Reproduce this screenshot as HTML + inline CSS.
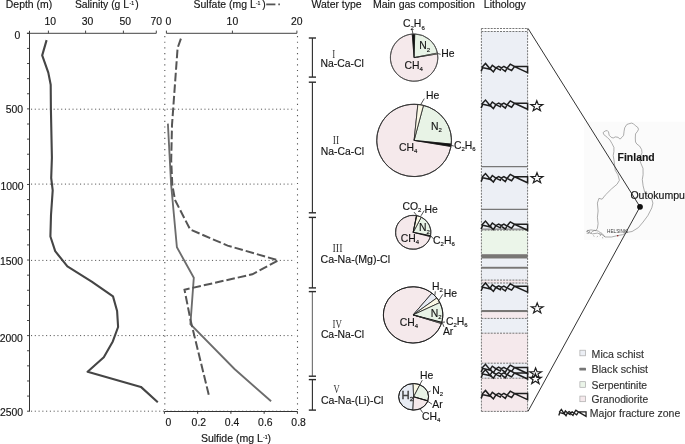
<!DOCTYPE html>
<html><head><meta charset="utf-8"><title>Outokumpu deep drill hole</title>
<style>html,body{margin:0;padding:0;background:#fff;}svg{display:block;}</style>
</head><body>
<svg width="685" height="444" viewBox="0 0 685 444" font-family='"Liberation Sans", Arial, Helvetica, sans-serif' fill="#151515"><text x="5.80" y="8.00" font-size="10.4" textLength="46.40" lengthAdjust="spacingAndGlyphs" stroke="#151515" stroke-width="0.15">Depth (m)</text>
<text x="74.90" y="8.00" font-size="10.4" textLength="54.10" lengthAdjust="spacingAndGlyphs" stroke="#151515" stroke-width="0.15">Salinity (g L</text>
<text x="129.50" y="5.40" font-size="5.2" stroke="#151515" stroke-width="0.15">-1</text>
<text x="135.20" y="8.00" font-size="10.4" stroke="#151515" stroke-width="0.15">)</text>
<text x="193.60" y="8.00" font-size="10.4" textLength="62.10" lengthAdjust="spacingAndGlyphs" stroke="#151515" stroke-width="0.15">Sulfate (mg L</text>
<text x="255.80" y="5.40" font-size="5.2" stroke="#151515" stroke-width="0.15">-1</text>
<text x="262.20" y="8.00" font-size="10.4" stroke="#151515" stroke-width="0.15">)</text>
<line x1="266.20" y1="4.40" x2="275.40" y2="4.40" stroke="#555" stroke-width="1.8"/>
<line x1="278.30" y1="4.40" x2="279.90" y2="4.40" stroke="#555" stroke-width="1.8"/>
<text x="311.40" y="8.00" font-size="10.4" textLength="50.30" lengthAdjust="spacingAndGlyphs" stroke="#151515" stroke-width="0.15">Water type</text>
<text x="372.90" y="8.00" font-size="10.4" textLength="101.90" lengthAdjust="spacingAndGlyphs" stroke="#151515" stroke-width="0.15">Main gas composition</text>
<text x="483.80" y="8.00" font-size="10.4" textLength="42.00" lengthAdjust="spacingAndGlyphs" stroke="#151515" stroke-width="0.15">Lithology</text>
<line x1="31.00" y1="109.20" x2="295.00" y2="109.20" stroke="#555" stroke-width="1" stroke-dasharray="1.1 2.67"/>
<line x1="31.00" y1="184.10" x2="295.00" y2="184.10" stroke="#555" stroke-width="1" stroke-dasharray="1.1 2.67"/>
<line x1="31.00" y1="260.40" x2="295.00" y2="260.40" stroke="#555" stroke-width="1" stroke-dasharray="1.1 2.67"/>
<line x1="31.00" y1="335.60" x2="295.00" y2="335.60" stroke="#555" stroke-width="1" stroke-dasharray="1.1 2.67"/>
<line x1="31.00" y1="411.20" x2="295.00" y2="411.20" stroke="#555" stroke-width="1" stroke-dasharray="1.1 2.67"/>
<line x1="164.80" y1="36.00" x2="164.80" y2="410.00" stroke="#555" stroke-width="1.1" stroke-dasharray="1.2 4.45"/>
<line x1="297.50" y1="36.00" x2="297.50" y2="410.00" stroke="#555" stroke-width="1.1" stroke-dasharray="1.2 4.45"/>
<line x1="29.50" y1="30.80" x2="29.50" y2="411.60" stroke="#333" stroke-width="1"/>
<line x1="26.90" y1="33.30" x2="156.30" y2="33.30" stroke="#444" stroke-width="1"/>
<line x1="27.00" y1="33.30" x2="29.50" y2="33.30" stroke="#333" stroke-width="0.9"/>
<line x1="27.00" y1="48.42" x2="29.50" y2="48.42" stroke="#333" stroke-width="0.9"/>
<line x1="27.00" y1="63.53" x2="29.50" y2="63.53" stroke="#333" stroke-width="0.9"/>
<line x1="27.00" y1="78.65" x2="29.50" y2="78.65" stroke="#333" stroke-width="0.9"/>
<line x1="27.00" y1="93.76" x2="29.50" y2="93.76" stroke="#333" stroke-width="0.9"/>
<line x1="27.00" y1="108.88" x2="29.50" y2="108.88" stroke="#333" stroke-width="0.9"/>
<line x1="27.00" y1="124.00" x2="29.50" y2="124.00" stroke="#333" stroke-width="0.9"/>
<line x1="27.00" y1="139.11" x2="29.50" y2="139.11" stroke="#333" stroke-width="0.9"/>
<line x1="27.00" y1="154.23" x2="29.50" y2="154.23" stroke="#333" stroke-width="0.9"/>
<line x1="27.00" y1="169.34" x2="29.50" y2="169.34" stroke="#333" stroke-width="0.9"/>
<line x1="27.00" y1="184.46" x2="29.50" y2="184.46" stroke="#333" stroke-width="0.9"/>
<line x1="27.00" y1="199.58" x2="29.50" y2="199.58" stroke="#333" stroke-width="0.9"/>
<line x1="27.00" y1="214.69" x2="29.50" y2="214.69" stroke="#333" stroke-width="0.9"/>
<line x1="27.00" y1="229.81" x2="29.50" y2="229.81" stroke="#333" stroke-width="0.9"/>
<line x1="27.00" y1="244.92" x2="29.50" y2="244.92" stroke="#333" stroke-width="0.9"/>
<line x1="27.00" y1="260.04" x2="29.50" y2="260.04" stroke="#333" stroke-width="0.9"/>
<line x1="27.00" y1="275.16" x2="29.50" y2="275.16" stroke="#333" stroke-width="0.9"/>
<line x1="27.00" y1="290.27" x2="29.50" y2="290.27" stroke="#333" stroke-width="0.9"/>
<line x1="27.00" y1="305.39" x2="29.50" y2="305.39" stroke="#333" stroke-width="0.9"/>
<line x1="27.00" y1="320.50" x2="29.50" y2="320.50" stroke="#333" stroke-width="0.9"/>
<line x1="27.00" y1="335.62" x2="29.50" y2="335.62" stroke="#333" stroke-width="0.9"/>
<line x1="27.00" y1="350.74" x2="29.50" y2="350.74" stroke="#333" stroke-width="0.9"/>
<line x1="27.00" y1="365.85" x2="29.50" y2="365.85" stroke="#333" stroke-width="0.9"/>
<line x1="27.00" y1="380.97" x2="29.50" y2="380.97" stroke="#333" stroke-width="0.9"/>
<line x1="27.00" y1="396.08" x2="29.50" y2="396.08" stroke="#333" stroke-width="0.9"/>
<line x1="27.00" y1="411.20" x2="29.50" y2="411.20" stroke="#333" stroke-width="0.9"/>
<line x1="48.40" y1="30.60" x2="48.40" y2="33.30" stroke="#444" stroke-width="1"/>
<line x1="85.60" y1="30.60" x2="85.60" y2="33.30" stroke="#444" stroke-width="1"/>
<line x1="123.40" y1="30.60" x2="123.40" y2="33.30" stroke="#444" stroke-width="1"/>
<line x1="156.30" y1="30.60" x2="156.30" y2="33.30" stroke="#444" stroke-width="1"/>
<text x="50.30" y="25.40" font-size="10.4" text-anchor="middle" stroke="#151515" stroke-width="0.15">10</text>
<text x="87.50" y="25.40" font-size="10.4" text-anchor="middle" stroke="#151515" stroke-width="0.15">30</text>
<text x="125.30" y="25.40" font-size="10.4" text-anchor="middle" stroke="#151515" stroke-width="0.15">50</text>
<text x="156.30" y="25.40" font-size="10.4" text-anchor="middle" stroke="#151515" stroke-width="0.15">70</text>
<line x1="166.40" y1="33.30" x2="296.90" y2="33.30" stroke="#444" stroke-width="1"/>
<line x1="166.40" y1="30.60" x2="166.40" y2="33.30" stroke="#444" stroke-width="1"/>
<line x1="232.40" y1="30.60" x2="232.40" y2="33.30" stroke="#444" stroke-width="1"/>
<line x1="296.90" y1="30.60" x2="296.90" y2="33.30" stroke="#444" stroke-width="1"/>
<text x="168.40" y="25.40" font-size="10.4" text-anchor="middle" stroke="#151515" stroke-width="0.15">0</text>
<text x="232.40" y="25.40" font-size="10.4" text-anchor="middle" stroke="#151515" stroke-width="0.15">10</text>
<text x="296.80" y="25.40" font-size="10.4" text-anchor="middle" stroke="#151515" stroke-width="0.15">20</text>
<text x="20.40" y="39.30" font-size="10.4" text-anchor="end" stroke="#151515" stroke-width="0.15">0</text>
<text x="23.00" y="113.00" font-size="10.4" text-anchor="end" stroke="#151515" stroke-width="0.15">500</text>
<text x="23.60" y="189.60" font-size="10.4" text-anchor="end" stroke="#151515" stroke-width="0.15">1000</text>
<text x="23.10" y="264.90" font-size="10.4" text-anchor="end" stroke="#151515" stroke-width="0.15">1500</text>
<text x="22.80" y="341.80" font-size="10.4" text-anchor="end" stroke="#151515" stroke-width="0.15">2000</text>
<text x="23.00" y="415.70" font-size="10.4" text-anchor="end" stroke="#151515" stroke-width="0.15">2500</text>
<line x1="164.40" y1="411.50" x2="297.50" y2="411.50" stroke="#333" stroke-width="1"/>
<line x1="164.40" y1="411.50" x2="164.40" y2="413.80" stroke="#333" stroke-width="1"/>
<line x1="197.65" y1="411.50" x2="197.65" y2="413.80" stroke="#333" stroke-width="1"/>
<line x1="230.90" y1="411.50" x2="230.90" y2="413.80" stroke="#333" stroke-width="1"/>
<line x1="264.15" y1="411.50" x2="264.15" y2="413.80" stroke="#333" stroke-width="1"/>
<line x1="297.40" y1="411.50" x2="297.40" y2="413.80" stroke="#333" stroke-width="1"/>
<text x="168.30" y="425.60" font-size="10.4" text-anchor="middle" stroke="#151515" stroke-width="0.15">0</text>
<text x="198.85" y="425.60" font-size="10.4" text-anchor="middle" stroke="#151515" stroke-width="0.15">0.2</text>
<text x="232.10" y="425.60" font-size="10.4" text-anchor="middle" stroke="#151515" stroke-width="0.15">0.4</text>
<text x="265.35" y="425.60" font-size="10.4" text-anchor="middle" stroke="#151515" stroke-width="0.15">0.6</text>
<text x="298.60" y="425.60" font-size="10.4" text-anchor="middle" stroke="#151515" stroke-width="0.15">0.8</text>
<text x="200.90" y="441.50" font-size="10.4" textLength="62.00" lengthAdjust="spacingAndGlyphs" stroke="#151515" stroke-width="0.15">Sulfide (mg L</text>
<text x="263.00" y="438.90" font-size="5.2" stroke="#151515" stroke-width="0.15">-1</text>
<text x="267.40" y="441.50" font-size="10.4" stroke="#151515" stroke-width="0.15">)</text>
<polyline points="46.60,40.10 42.20,55.40 48.30,72.60 50.70,84.80 50.90,109.00 51.90,157.70 51.20,178.00 52.70,190.40 51.00,215.00 50.40,236.50 55.20,251.20 67.40,266.40 91.70,281.60 113.00,296.40 117.10,311.00 118.10,327.00 112.80,341.40 103.80,357.20 87.60,371.80 140.90,386.90 157.80,402.20" fill="none" stroke="#454545" stroke-width="2.1" stroke-linejoin="round"/>
<polyline points="167.90,123.60 171.10,184.30 176.90,247.30 193.80,277.70 190.40,324.10 234.50,369.00 271.10,401.20" fill="none" stroke="#6c6c6c" stroke-width="1.85"/>
<polyline points="180.90,38.60 177.60,48.00 172.00,125.00 171.20,160.00 172.30,185.00 175.00,200.00 190.20,229.50 227.60,245.60 278.20,260.40 252.30,274.30 184.50,289.70 190.50,320.00 209.20,396.60" fill="none" stroke="#555" stroke-width="2.0" stroke-dasharray="8.6 3"/>
<line x1="312.40" y1="38.00" x2="312.40" y2="77.10" stroke="#2b2b2b" stroke-width="1.1"/>
<line x1="308.80" y1="38.00" x2="316.00" y2="38.00" stroke="#2b2b2b" stroke-width="1.4"/>
<line x1="308.80" y1="77.10" x2="316.00" y2="77.10" stroke="#2b2b2b" stroke-width="1.4"/>
<line x1="312.40" y1="82.20" x2="312.40" y2="212.80" stroke="#2b2b2b" stroke-width="1.1"/>
<line x1="308.80" y1="82.20" x2="316.00" y2="82.20" stroke="#2b2b2b" stroke-width="1.4"/>
<line x1="308.80" y1="212.80" x2="316.00" y2="212.80" stroke="#2b2b2b" stroke-width="1.4"/>
<line x1="312.40" y1="217.40" x2="312.40" y2="287.90" stroke="#2b2b2b" stroke-width="1.1"/>
<line x1="308.80" y1="217.40" x2="316.00" y2="217.40" stroke="#2b2b2b" stroke-width="1.4"/>
<line x1="308.80" y1="287.90" x2="316.00" y2="287.90" stroke="#2b2b2b" stroke-width="1.4"/>
<line x1="312.40" y1="291.60" x2="312.40" y2="376.20" stroke="#777" stroke-width="1.2"/>
<line x1="308.80" y1="291.60" x2="316.00" y2="291.60" stroke="#2b2b2b" stroke-width="1.4"/>
<line x1="308.80" y1="376.20" x2="316.00" y2="376.20" stroke="#2b2b2b" stroke-width="1.4"/>
<line x1="312.40" y1="379.60" x2="312.40" y2="410.10" stroke="#2b2b2b" stroke-width="1.1"/>
<line x1="308.80" y1="379.60" x2="316.00" y2="379.60" stroke="#2b2b2b" stroke-width="1.4"/>
<line x1="308.80" y1="410.10" x2="316.00" y2="410.10" stroke="#2b2b2b" stroke-width="1.4"/>
<text x="332.30" y="57.60" font-size="11.8" font-family='"Liberation Serif", "Times New Roman", serif' fill="#333" textLength="3.00" lengthAdjust="spacingAndGlyphs">I</text>
<text x="320.60" y="67.00" font-size="10.4" textLength="43.30" lengthAdjust="spacingAndGlyphs" stroke="#151515" stroke-width="0.15">Na-Ca-Cl</text>
<text x="332.70" y="143.60" font-size="11.8" font-family='"Liberation Serif", "Times New Roman", serif' fill="#333" textLength="6.40" lengthAdjust="spacingAndGlyphs">II</text>
<text x="320.80" y="154.80" font-size="10.4" textLength="43.20" lengthAdjust="spacingAndGlyphs" stroke="#151515" stroke-width="0.15">Na-Ca-Cl</text>
<text x="332.45" y="252.30" font-size="11.8" font-family='"Liberation Serif", "Times New Roman", serif' fill="#333" textLength="10.10" lengthAdjust="spacingAndGlyphs">III</text>
<text x="320.50" y="263.10" font-size="10.4" textLength="69.50" lengthAdjust="spacingAndGlyphs" stroke="#151515" stroke-width="0.15">Ca-Na-(Mg)-Cl</text>
<text x="332.50" y="327.90" font-size="11.8" font-family='"Liberation Serif", "Times New Roman", serif' fill="#333" textLength="9.40" lengthAdjust="spacingAndGlyphs">IV</text>
<text x="320.90" y="338.00" font-size="10.4" textLength="43.20" lengthAdjust="spacingAndGlyphs" stroke="#151515" stroke-width="0.15">Ca-Na-Cl</text>
<text x="333.50" y="392.70" font-size="11.8" font-family='"Liberation Serif", "Times New Roman", serif' fill="#333" textLength="6.20" lengthAdjust="spacingAndGlyphs">V</text>
<text x="320.90" y="403.90" font-size="10.4" textLength="62.40" lengthAdjust="spacingAndGlyphs" stroke="#151515" stroke-width="0.15">Ca-Na-(Li)-Cl</text>
<path d="M414.10,57.60 L437.56,53.89 A23.75,23.65 0 1 1 412.24,34.02 Z" fill="#f5e9eb" stroke="#222" stroke-width="0.8" stroke-linejoin="round"/>
<path d="M414.10,57.60 L414.72,33.96 A23.75,23.65 0 0 1 437.41,53.07 Z" fill="#e8f3e6" stroke="#222" stroke-width="0.8" stroke-linejoin="round"/>
<path d="M414.10,57.60 L437.41,53.07 A23.75,23.65 0 0 1 437.56,53.89 Z" fill="#fbf9e6" stroke="#222" stroke-width="0.6" stroke-linejoin="round"/>
<path d="M414.10,57.60 L412.24,34.02 A23.75,23.65 0 0 1 414.72,33.96 Z" fill="#111" stroke="#111" stroke-width="0.5" stroke-linejoin="round"/>
<ellipse cx="414.1" cy="57.6" rx="23.75" ry="23.65" fill="none" stroke="#555" stroke-width="0.7"/>
<line x1="413.00" y1="34.00" x2="412.00" y2="29.50" stroke="#222" stroke-width="0.8"/>
<line x1="437.60" y1="53.50" x2="440.60" y2="54.30" stroke="#222" stroke-width="0.8"/>
<text x="403.00" y="27.40" font-size="10.4" stroke="#151515" stroke-width="0.15"><tspan y="27.40">C</tspan><tspan font-size="6.0" y="29.70">2</tspan><tspan y="27.40">H</tspan><tspan font-size="6.0" y="29.70">6</tspan></text>
<text x="441.20" y="56.90" font-size="10.4" stroke="#151515" stroke-width="0.15">He</text>
<text x="419.30" y="49.20" font-size="10.4" stroke="#151515" stroke-width="0.15"><tspan y="49.20">N</tspan><tspan font-size="6.0" y="51.50">2</tspan></text>
<text x="404.50" y="68.90" font-size="10.4" stroke="#151515" stroke-width="0.15"><tspan y="68.90">CH</tspan><tspan font-size="6.0" y="71.20">4</tspan></text>
<path d="M414.10,140.40 L450.96,146.50 A37.40,36.20 0 1 1 417.89,104.39 Z" fill="#f5e9eb" stroke="#222" stroke-width="0.8" stroke-linejoin="round"/>
<path d="M414.10,140.40 L423.49,105.36 A37.40,36.20 0 0 1 451.30,144.11 Z" fill="#e8f3e6" stroke="#222" stroke-width="0.8" stroke-linejoin="round"/>
<path d="M414.10,140.40 L417.89,104.39 A37.40,36.20 0 0 1 423.49,105.36 Z" fill="#fbf9e6" stroke="#222" stroke-width="0.8" stroke-linejoin="round"/>
<path d="M414.10,140.40 L451.30,144.11 A37.40,36.20 0 0 1 450.96,146.50 Z" fill="#111" stroke="#111" stroke-width="0.5" stroke-linejoin="round"/>
<ellipse cx="414.1" cy="140.4" rx="37.4" ry="36.2" fill="none" stroke="#333" stroke-width="0.9"/>
<line x1="420.70" y1="104.60" x2="424.30" y2="98.60" stroke="#222" stroke-width="0.8"/>
<text x="425.90" y="98.50" font-size="10.4" stroke="#151515" stroke-width="0.15">He</text>
<text x="431.10" y="130.00" font-size="10.4" stroke="#151515" stroke-width="0.15"><tspan y="130.00">N</tspan><tspan font-size="6.0" y="132.30">2</tspan></text>
<text x="398.90" y="150.50" font-size="10.4" stroke="#151515" stroke-width="0.15"><tspan y="150.50">CH</tspan><tspan font-size="6.0" y="152.80">4</tspan></text>
<text x="453.90" y="148.90" font-size="10.4" stroke="#151515" stroke-width="0.15"><tspan y="148.90">C</tspan><tspan font-size="6.0" y="151.20">2</tspan><tspan y="148.90">H</tspan><tspan font-size="6.0" y="151.20">6</tspan></text>
<line x1="451.20" y1="145.40" x2="453.80" y2="146.00" stroke="#222" stroke-width="0.8"/>
<path d="M413.20,232.30 L430.33,236.57 A17.70,17.00 0 1 1 416.45,215.59 Z" fill="#f5e9eb" stroke="#222" stroke-width="0.8" stroke-linejoin="round"/>
<path d="M413.20,232.30 L421.25,217.16 A17.70,17.00 0 0 1 430.55,235.67 Z" fill="#e8f3e6" stroke="#222" stroke-width="0.8" stroke-linejoin="round"/>
<path d="M413.20,232.30 L416.74,215.64 A17.70,17.00 0 0 1 421.25,217.16 Z" fill="#fbf9e6" stroke="#222" stroke-width="0.8" stroke-linejoin="round"/>
<path d="M413.20,232.30 L416.45,215.59 A17.70,17.00 0 0 1 416.74,215.64 Z" fill="#111" stroke="#111" stroke-width="0.6" stroke-linejoin="round"/>
<path d="M413.20,232.30 L430.55,235.67 A17.70,17.00 0 0 1 430.33,236.57 Z" fill="#111" stroke="#111" stroke-width="0.5" stroke-linejoin="round"/>
<ellipse cx="413.2" cy="232.3" rx="17.7" ry="17.0" fill="none" stroke="#333" stroke-width="0.9"/>
<line x1="416.60" y1="215.30" x2="414.00" y2="212.10" stroke="#222" stroke-width="0.8"/>
<line x1="421.00" y1="215.80" x2="424.20" y2="210.60" stroke="#222" stroke-width="0.8"/>
<line x1="430.30" y1="235.30" x2="433.40" y2="238.80" stroke="#222" stroke-width="0.8"/>
<text x="402.40" y="210.00" font-size="10.4" stroke="#151515" stroke-width="0.15"><tspan y="210.00">CO</tspan><tspan font-size="6.0" y="212.30">2</tspan></text>
<text x="424.60" y="212.50" font-size="10.4" stroke="#151515" stroke-width="0.15">He</text>
<text x="418.90" y="231.30" font-size="10.4" stroke="#151515" stroke-width="0.15"><tspan y="231.30">N</tspan><tspan font-size="6.0" y="233.60">2</tspan></text>
<text x="400.80" y="242.00" font-size="10.4" stroke="#151515" stroke-width="0.15"><tspan y="242.00">CH</tspan><tspan font-size="6.0" y="244.30">4</tspan></text>
<text x="433.10" y="243.90" font-size="10.4" stroke="#151515" stroke-width="0.15"><tspan y="243.90">C</tspan><tspan font-size="6.0" y="246.20">2</tspan><tspan y="243.90">H</tspan><tspan font-size="6.0" y="246.20">6</tspan></text>
<path d="M413.10,314.90 L441.41,323.55 A29.75,28.15 0 1 1 431.96,293.13 Z" fill="#f5e9eb" stroke="#222" stroke-width="0.8" stroke-linejoin="round"/>
<path d="M413.10,314.90 L431.96,293.13 A29.75,28.15 0 0 1 436.86,297.95 Z" fill="#e8ecf4" stroke="#222" stroke-width="0.8" stroke-linejoin="round"/>
<path d="M413.10,314.90 L436.86,297.95 A29.75,28.15 0 0 1 439.86,302.59 Z" fill="#fbf9e6" stroke="#222" stroke-width="0.8" stroke-linejoin="round"/>
<path d="M413.10,314.90 L439.86,302.59 A29.75,28.15 0 0 1 441.80,322.32 Z" fill="#e8f3e6" stroke="#222" stroke-width="0.8" stroke-linejoin="round"/>
<path d="M413.10,314.90 L441.80,322.32 A29.75,28.15 0 0 1 441.57,323.06 Z" fill="#111" stroke="#111" stroke-width="0.6" stroke-linejoin="round"/>
<path d="M413.10,314.90 L441.57,323.06 A29.75,28.15 0 0 1 441.41,323.55 Z" fill="#fbf9e6" stroke="#222" stroke-width="0.5" stroke-linejoin="round"/>
<ellipse cx="413.1" cy="314.9" rx="29.75" ry="28.15" fill="none" stroke="#222" stroke-width="1.0"/>
<line x1="434.90" y1="295.20" x2="435.30" y2="291.30" stroke="#222" stroke-width="0.8"/>
<line x1="438.20" y1="301.40" x2="442.70" y2="294.40" stroke="#222" stroke-width="0.8"/>
<line x1="442.20" y1="322.30" x2="443.90" y2="326.80" stroke="#222" stroke-width="0.8"/>
<line x1="442.20" y1="322.30" x2="445.00" y2="322.00" stroke="#222" stroke-width="0.8"/>
<text x="432.00" y="289.80" font-size="10.4" stroke="#151515" stroke-width="0.15"><tspan y="289.80">H</tspan><tspan font-size="6.0" y="292.10">2</tspan></text>
<text x="443.80" y="296.70" font-size="10.4" stroke="#151515" stroke-width="0.15">He</text>
<text x="430.80" y="316.80" font-size="10.4" stroke="#151515" stroke-width="0.15"><tspan y="316.80">N</tspan><tspan font-size="6.0" y="319.10">2</tspan></text>
<text x="399.70" y="325.70" font-size="10.4" stroke="#151515" stroke-width="0.15"><tspan y="325.70">CH</tspan><tspan font-size="6.0" y="328.00">4</tspan></text>
<text x="445.90" y="324.90" font-size="10.4" stroke="#151515" stroke-width="0.15"><tspan y="324.90">C</tspan><tspan font-size="6.0" y="327.20">2</tspan><tspan y="324.90">H</tspan><tspan font-size="6.0" y="327.20">6</tspan></text>
<text x="442.90" y="335.20" font-size="10.4" stroke="#151515" stroke-width="0.15">Ar</text>
<path d="M413.60,396.80 L412.90,410.09 A15.00,13.30 0 0 1 413.14,383.51 Z" fill="#e8ecf4" stroke="#222" stroke-width="0.8" stroke-linejoin="round"/>
<path d="M413.60,396.80 L413.14,383.51 A15.00,13.30 0 0 1 419.89,384.72 Z" fill="#fbf9e6" stroke="#222" stroke-width="0.8" stroke-linejoin="round"/>
<path d="M413.60,396.80 L419.89,384.72 A15.00,13.30 0 0 1 427.92,400.77 Z" fill="#e8f3e6" stroke="#222" stroke-width="0.8" stroke-linejoin="round"/>
<path d="M413.60,396.80 L427.83,401.01 A15.00,13.30 0 0 1 412.90,410.09 Z" fill="#f5e9eb" stroke="#222" stroke-width="0.8" stroke-linejoin="round"/>
<path d="M413.60,396.80 L427.92,400.77 A15.00,13.30 0 0 1 427.83,401.01 Z" fill="#111" stroke="#111" stroke-width="0.6" stroke-linejoin="round"/>
<ellipse cx="413.6" cy="396.8" rx="15.0" ry="13.3" fill="none" stroke="#222" stroke-width="1.0"/>
<line x1="419.70" y1="384.80" x2="422.30" y2="380.20" stroke="#222" stroke-width="0.8"/>
<line x1="427.60" y1="392.50" x2="430.60" y2="391.00" stroke="#222" stroke-width="0.8"/>
<line x1="427.30" y1="401.00" x2="432.00" y2="404.20" stroke="#222" stroke-width="0.8"/>
<line x1="420.00" y1="408.60" x2="422.60" y2="412.60" stroke="#222" stroke-width="0.8"/>
<text x="420.00" y="379.20" font-size="10.4" stroke="#151515" stroke-width="0.15">He</text>
<text x="432.30" y="393.90" font-size="10.4" stroke="#151515" stroke-width="0.15"><tspan y="393.90">N</tspan><tspan font-size="6.0" y="396.20">2</tspan></text>
<text x="432.30" y="408.00" font-size="10.4" stroke="#151515" stroke-width="0.15">Ar</text>
<text x="422.10" y="420.00" font-size="10.4" stroke="#151515" stroke-width="0.15"><tspan y="420.00">CH</tspan><tspan font-size="6.0" y="422.30">4</tspan></text>
<text x="401.4" y="399.4" font-size="11.4" fill="#444" stroke="#444" stroke-width="0.45">H<tspan font-size="6.2" dy="1.9">2</tspan></text>
<rect x="481.4" y="31.50" width="46.20" height="198.60" fill="#eceff5"/>
<rect x="481.4" y="230.10" width="46.20" height="24.10" fill="#ebf5e9"/>
<rect x="481.4" y="254.20" width="46.20" height="4.50" fill="#787674"/>
<rect x="481.4" y="258.70" width="46.20" height="21.40" fill="#eceff5"/>
<rect x="481.4" y="280.10" width="46.20" height="2.90" fill="#f5e9ec"/>
<rect x="481.4" y="283.00" width="46.20" height="27.00" fill="#eceff5"/>
<rect x="481.4" y="310.00" width="46.20" height="2.30" fill="#787674"/>
<rect x="481.4" y="312.30" width="46.20" height="6.10" fill="#f5e9ec"/>
<rect x="481.4" y="318.40" width="46.20" height="14.80" fill="#eceff5"/>
<rect x="481.4" y="333.20" width="46.20" height="30.00" fill="#f5e9ec"/>
<rect x="481.4" y="363.20" width="46.20" height="15.00" fill="#eceff5"/>
<rect x="481.4" y="378.20" width="46.20" height="33.20" fill="#f5e9ec"/>
<rect x="481.4" y="266.80" width="46.20" height="1.90" fill="#787674"/>
<line x1="481.40" y1="166.60" x2="527.60" y2="166.60" stroke="#777" stroke-width="1.2"/>
<line x1="481.40" y1="209.30" x2="527.60" y2="209.30" stroke="#777" stroke-width="1.2"/>
<line x1="481.40" y1="229.20" x2="527.60" y2="229.20" stroke="#888" stroke-width="1.2"/>
<line x1="481.40" y1="28.50" x2="527.60" y2="28.50" stroke="#666" stroke-width="0.9" stroke-dasharray="2 1.1"/>
<line x1="481.40" y1="31.50" x2="527.60" y2="31.50" stroke="#666" stroke-width="0.9" stroke-dasharray="2 1.1"/>
<line x1="481.40" y1="230.10" x2="527.60" y2="230.10" stroke="#666" stroke-width="0.9" stroke-dasharray="2 1.1"/>
<line x1="481.40" y1="280.10" x2="527.60" y2="280.10" stroke="#666" stroke-width="0.9" stroke-dasharray="2 1.1"/>
<line x1="481.40" y1="283.00" x2="527.60" y2="283.00" stroke="#666" stroke-width="0.9" stroke-dasharray="2 1.1"/>
<line x1="481.40" y1="318.40" x2="527.60" y2="318.40" stroke="#666" stroke-width="0.9" stroke-dasharray="2 1.1"/>
<line x1="481.40" y1="333.20" x2="527.60" y2="333.20" stroke="#666" stroke-width="0.9" stroke-dasharray="2 1.1"/>
<line x1="481.40" y1="363.20" x2="527.60" y2="363.20" stroke="#666" stroke-width="0.9" stroke-dasharray="2 1.1"/>
<line x1="481.40" y1="378.20" x2="527.60" y2="378.20" stroke="#666" stroke-width="0.9" stroke-dasharray="2 1.1"/>
<line x1="481.40" y1="411.40" x2="527.60" y2="411.40" stroke="#666" stroke-width="0.9" stroke-dasharray="2 1.1"/>
<line x1="481.40" y1="28.50" x2="481.40" y2="411.40" stroke="#666" stroke-width="0.9" stroke-dasharray="2 1.1"/>
<line x1="527.60" y1="28.50" x2="527.60" y2="411.40" stroke="#666" stroke-width="0.9" stroke-dasharray="2 1.1"/>
<g transform="translate(0,0.00)"><polyline points="481.10,71.40 482.80,67.40" fill="none" stroke="#1e1e1e" stroke-width="1.5" stroke-linejoin="miter"/><polyline points="481.80,67.40 485.50,63.40 490.00,68.80 491.50,69.60 481.80,67.40" fill="none" stroke="#1e1e1e" stroke-width="1.5" stroke-linejoin="miter"/><polyline points="490.00,68.70 492.30,65.30 495.90,67.90 493.40,71.80 490.00,68.70" fill="none" stroke="#1e1e1e" stroke-width="1.5" stroke-linejoin="miter"/><polyline points="495.90,67.90 498.70,66.30 501.40,67.80 500.30,70.10 495.90,67.90" fill="none" stroke="#1e1e1e" stroke-width="1.5" stroke-linejoin="miter"/><polyline points="501.40,67.80 503.90,66.40 507.00,68.30 505.30,71.40 502.00,69.00" fill="none" stroke="#1e1e1e" stroke-width="1.5" stroke-linejoin="miter"/><polyline points="507.00,68.30 510.30,64.20 514.50,66.60 511.60,70.50 507.50,68.50" fill="none" stroke="#1e1e1e" stroke-width="1.5" stroke-linejoin="miter"/><polyline points="514.50,66.60 527.60,66.60 527.60,72.60 514.50,66.60" fill="none" stroke="#1e1e1e" stroke-width="1.5" stroke-linejoin="miter"/></g>
<g transform="translate(0,36.70)"><polyline points="481.10,71.40 482.80,67.40" fill="none" stroke="#1e1e1e" stroke-width="1.5" stroke-linejoin="miter"/><polyline points="481.80,67.40 485.50,63.40 490.00,68.80 491.50,69.60 481.80,67.40" fill="none" stroke="#1e1e1e" stroke-width="1.5" stroke-linejoin="miter"/><polyline points="490.00,68.70 492.30,65.30 495.90,67.90 493.40,71.80 490.00,68.70" fill="none" stroke="#1e1e1e" stroke-width="1.5" stroke-linejoin="miter"/><polyline points="495.90,67.90 498.70,66.30 501.40,67.80 500.30,70.10 495.90,67.90" fill="none" stroke="#1e1e1e" stroke-width="1.5" stroke-linejoin="miter"/><polyline points="501.40,67.80 503.90,66.40 507.00,68.30 505.30,71.40 502.00,69.00" fill="none" stroke="#1e1e1e" stroke-width="1.5" stroke-linejoin="miter"/><polyline points="507.00,68.30 510.30,64.20 514.50,66.60 511.60,70.50 507.50,68.50" fill="none" stroke="#1e1e1e" stroke-width="1.5" stroke-linejoin="miter"/><polyline points="514.50,66.60 527.60,66.60 527.60,72.60 514.50,66.60" fill="none" stroke="#1e1e1e" stroke-width="1.5" stroke-linejoin="miter"/></g>
<g transform="translate(0,110.20)"><polyline points="481.10,71.40 482.80,67.40" fill="none" stroke="#1e1e1e" stroke-width="1.5" stroke-linejoin="miter"/><polyline points="481.80,67.40 485.50,63.40 490.00,68.80 491.50,69.60 481.80,67.40" fill="none" stroke="#1e1e1e" stroke-width="1.5" stroke-linejoin="miter"/><polyline points="490.00,68.70 492.30,65.30 495.90,67.90 493.40,71.80 490.00,68.70" fill="none" stroke="#1e1e1e" stroke-width="1.5" stroke-linejoin="miter"/><polyline points="495.90,67.90 498.70,66.30 501.40,67.80 500.30,70.10 495.90,67.90" fill="none" stroke="#1e1e1e" stroke-width="1.5" stroke-linejoin="miter"/><polyline points="501.40,67.80 503.90,66.40 507.00,68.30 505.30,71.40 502.00,69.00" fill="none" stroke="#1e1e1e" stroke-width="1.5" stroke-linejoin="miter"/><polyline points="507.00,68.30 510.30,64.20 514.50,66.60 511.60,70.50 507.50,68.50" fill="none" stroke="#1e1e1e" stroke-width="1.5" stroke-linejoin="miter"/><polyline points="514.50,66.60 527.60,66.60 527.60,72.60 514.50,66.60" fill="none" stroke="#1e1e1e" stroke-width="1.5" stroke-linejoin="miter"/></g>
<g transform="translate(0,157.70)"><polyline points="481.10,71.40 482.80,67.40" fill="none" stroke="#1e1e1e" stroke-width="1.5" stroke-linejoin="miter"/><polyline points="481.80,67.40 485.50,63.40 490.00,68.80 491.50,69.60 481.80,67.40" fill="none" stroke="#1e1e1e" stroke-width="1.5" stroke-linejoin="miter"/><polyline points="490.00,68.70 492.30,65.30 495.90,67.90 493.40,71.80 490.00,68.70" fill="none" stroke="#1e1e1e" stroke-width="1.5" stroke-linejoin="miter"/><polyline points="495.90,67.90 498.70,66.30 501.40,67.80 500.30,70.10 495.90,67.90" fill="none" stroke="#1e1e1e" stroke-width="1.5" stroke-linejoin="miter"/><polyline points="501.40,67.80 503.90,66.40 507.00,68.30 505.30,71.40 502.00,69.00" fill="none" stroke="#1e1e1e" stroke-width="1.5" stroke-linejoin="miter"/><polyline points="507.00,68.30 510.30,64.20 514.50,66.60 511.60,70.50 507.50,68.50" fill="none" stroke="#1e1e1e" stroke-width="1.5" stroke-linejoin="miter"/><polyline points="514.50,66.60 527.60,66.60 527.60,72.60 514.50,66.60" fill="none" stroke="#1e1e1e" stroke-width="1.5" stroke-linejoin="miter"/></g>
<g transform="translate(0,219.60)"><polyline points="481.10,71.40 482.80,67.40" fill="none" stroke="#1e1e1e" stroke-width="1.5" stroke-linejoin="miter"/><polyline points="481.80,67.40 485.50,63.40 490.00,68.80 491.50,69.60 481.80,67.40" fill="none" stroke="#1e1e1e" stroke-width="1.5" stroke-linejoin="miter"/><polyline points="490.00,68.70 492.30,65.30 495.90,67.90 493.40,71.80 490.00,68.70" fill="none" stroke="#1e1e1e" stroke-width="1.5" stroke-linejoin="miter"/><polyline points="495.90,67.90 498.70,66.30 501.40,67.80 500.30,70.10 495.90,67.90" fill="none" stroke="#1e1e1e" stroke-width="1.5" stroke-linejoin="miter"/><polyline points="501.40,67.80 503.90,66.40 507.00,68.30 505.30,71.40 502.00,69.00" fill="none" stroke="#1e1e1e" stroke-width="1.5" stroke-linejoin="miter"/><polyline points="507.00,68.30 510.30,64.20 514.50,66.60 511.60,70.50 507.50,68.50" fill="none" stroke="#1e1e1e" stroke-width="1.5" stroke-linejoin="miter"/><polyline points="514.50,66.60 527.60,66.60 527.60,72.60 514.50,66.60" fill="none" stroke="#1e1e1e" stroke-width="1.5" stroke-linejoin="miter"/></g>
<g transform="translate(0,300.90)"><polyline points="481.10,71.40 482.80,67.40" fill="none" stroke="#1e1e1e" stroke-width="1.5" stroke-linejoin="miter"/><polyline points="481.80,67.40 485.50,63.40 490.00,68.80 491.50,69.60 481.80,67.40" fill="none" stroke="#1e1e1e" stroke-width="1.5" stroke-linejoin="miter"/><polyline points="490.00,68.70 492.30,65.30 495.90,67.90 493.40,71.80 490.00,68.70" fill="none" stroke="#1e1e1e" stroke-width="1.5" stroke-linejoin="miter"/><polyline points="495.90,67.90 498.70,66.30 501.40,67.80 500.30,70.10 495.90,67.90" fill="none" stroke="#1e1e1e" stroke-width="1.5" stroke-linejoin="miter"/><polyline points="501.40,67.80 503.90,66.40 507.00,68.30 505.30,71.40 502.00,69.00" fill="none" stroke="#1e1e1e" stroke-width="1.5" stroke-linejoin="miter"/><polyline points="507.00,68.30 510.30,64.20 514.50,66.60 511.60,70.50 507.50,68.50" fill="none" stroke="#1e1e1e" stroke-width="1.5" stroke-linejoin="miter"/><polyline points="514.50,66.60 527.60,66.60 527.60,72.60 514.50,66.60" fill="none" stroke="#1e1e1e" stroke-width="1.5" stroke-linejoin="miter"/></g>
<g transform="translate(0,306.40)"><polyline points="481.10,71.40 482.80,67.40" fill="none" stroke="#1e1e1e" stroke-width="1.5" stroke-linejoin="miter"/><polyline points="481.80,67.40 485.50,63.40 490.00,68.80 491.50,69.60 481.80,67.40" fill="none" stroke="#1e1e1e" stroke-width="1.5" stroke-linejoin="miter"/><polyline points="490.00,68.70 492.30,65.30 495.90,67.90 493.40,71.80 490.00,68.70" fill="none" stroke="#1e1e1e" stroke-width="1.5" stroke-linejoin="miter"/><polyline points="495.90,67.90 498.70,66.30 501.40,67.80 500.30,70.10 495.90,67.90" fill="none" stroke="#1e1e1e" stroke-width="1.5" stroke-linejoin="miter"/><polyline points="501.40,67.80 503.90,66.40 507.00,68.30 505.30,71.40 502.00,69.00" fill="none" stroke="#1e1e1e" stroke-width="1.5" stroke-linejoin="miter"/><polyline points="507.00,68.30 510.30,64.20 514.50,66.60 511.60,70.50 507.50,68.50" fill="none" stroke="#1e1e1e" stroke-width="1.5" stroke-linejoin="miter"/><polyline points="514.50,66.60 527.60,66.60 527.60,72.60 514.50,66.60" fill="none" stroke="#1e1e1e" stroke-width="1.5" stroke-linejoin="miter"/></g>
<g transform="translate(0,327.00)"><polyline points="481.10,71.40 482.80,67.40" fill="none" stroke="#1e1e1e" stroke-width="1.5" stroke-linejoin="miter"/><polyline points="481.80,67.40 485.50,63.40 490.00,68.80 491.50,69.60 481.80,67.40" fill="none" stroke="#1e1e1e" stroke-width="1.5" stroke-linejoin="miter"/><polyline points="490.00,68.70 492.30,65.30 495.90,67.90 493.40,71.80 490.00,68.70" fill="none" stroke="#1e1e1e" stroke-width="1.5" stroke-linejoin="miter"/><polyline points="495.90,67.90 498.70,66.30 501.40,67.80 500.30,70.10 495.90,67.90" fill="none" stroke="#1e1e1e" stroke-width="1.5" stroke-linejoin="miter"/><polyline points="501.40,67.80 503.90,66.40 507.00,68.30 505.30,71.40 502.00,69.00" fill="none" stroke="#1e1e1e" stroke-width="1.5" stroke-linejoin="miter"/><polyline points="507.00,68.30 510.30,64.20 514.50,66.60 511.60,70.50 507.50,68.50" fill="none" stroke="#1e1e1e" stroke-width="1.5" stroke-linejoin="miter"/><polyline points="514.50,66.60 527.60,66.60 527.60,72.60 514.50,66.60" fill="none" stroke="#1e1e1e" stroke-width="1.5" stroke-linejoin="miter"/></g>
<polygon points="536.80,100.70 538.26,104.42 542.70,104.50 539.16,106.88 540.44,110.65 536.80,108.40 533.16,110.65 534.44,106.88 530.90,104.50 535.34,104.42" fill="#fff" stroke="#1e1e1e" stroke-width="1.2" stroke-linejoin="miter"/>
<polygon points="537.00,172.70 538.46,176.42 542.90,176.50 539.36,178.88 540.64,182.65 537.00,180.40 533.36,182.65 534.64,178.88 531.10,176.50 535.54,176.42" fill="#fff" stroke="#1e1e1e" stroke-width="1.2" stroke-linejoin="miter"/>
<polygon points="537.20,302.90 538.66,306.62 543.10,306.70 539.56,309.08 540.84,312.85 537.20,310.60 533.56,312.85 534.84,309.08 531.30,306.70 535.74,306.62" fill="#fff" stroke="#1e1e1e" stroke-width="1.2" stroke-linejoin="miter"/>
<polygon points="535.60,367.90 537.06,371.62 541.50,371.70 537.96,374.08 539.24,377.85 535.60,375.60 531.96,377.85 533.24,374.08 529.70,371.70 534.14,371.62" fill="none" stroke="#1e1e1e" stroke-width="1.2" stroke-linejoin="miter"/>
<polygon points="535.40,373.60 536.86,377.32 541.30,377.40 537.76,379.78 539.04,383.55 535.40,381.30 531.76,383.55 533.04,379.78 529.50,377.40 533.94,377.32" fill="none" stroke="#1e1e1e" stroke-width="1.2" stroke-linejoin="miter"/>
<rect x="583.9" y="121.8" width="101.1" height="118.1" fill="#fbfbfb"/>
<polygon points="603.10,132.60 605.10,131.00 607.20,130.50 608.50,131.90 609.20,135.30 611.20,137.30 613.20,138.00 615.30,136.90 618.00,137.30 620.00,139.10 622.00,137.30 623.60,135.30 624.10,131.20 624.70,127.80 626.80,124.50 628.80,123.80 631.50,123.10 633.50,123.80 635.50,125.80 637.60,127.20 638.50,129.20 637.60,131.20 635.50,133.90 635.30,138.00 635.50,142.00 636.90,144.10 639.60,146.10 641.60,149.50 642.00,152.80 640.90,155.50 639.60,159.60 641.00,163.60 643.00,168.40 643.10,174.70 642.30,179.50 643.10,185.80 644.70,192.10 647.80,196.80 651.80,199.20 652.90,203.10 651.80,207.90 647.80,215.70 643.10,222.00 638.40,227.60 632.10,231.50 627.30,232.30 622.60,234.70 617.90,235.50 611.50,237.00 605.20,237.00 602.10,234.70 597.40,233.10 592.60,233.90 587.90,232.30 587.10,230.70 591.00,229.90 595.80,230.70 597.40,228.40 598.10,223.60 597.40,217.30 598.10,211.00 597.40,203.10 598.90,198.40 602.10,199.20 605.20,195.20 611.50,188.90 617.10,184.20 619.40,180.30 617.90,174.70 615.30,170.40 614.60,165.00 613.90,159.60 613.20,155.50 613.90,151.50 613.90,147.40 611.90,143.40 609.90,140.00 607.20,137.30 603.80,134.60" fill="none" stroke="#8a8a8a" stroke-width="0.7" stroke-linejoin="round"/>
<line x1="528.00" y1="28.40" x2="640.00" y2="206.80" stroke="#333" stroke-width="1"/>
<line x1="528.00" y1="411.40" x2="640.00" y2="206.80" stroke="#333" stroke-width="1"/>
<circle cx="640" cy="206.8" r="2.9" fill="#111"/>
<text x="617.60" y="161.10" font-size="10.4" textLength="37.10" lengthAdjust="spacingAndGlyphs" stroke="#151515" stroke-width="0.15" font-weight="bold">Finland</text>
<text x="630.40" y="199.20" font-size="10.4" textLength="54.60" lengthAdjust="spacingAndGlyphs" stroke="#151515" stroke-width="0.15">Outokumpu</text>
<text x="607.0" y="233.3" font-size="5.6" fill="#3a3a3a" textLength="21.4" lengthAdjust="spacingAndGlyphs">HELSINKI</text>
<circle cx="617.7" cy="235.8" r="0.8" fill="#8b1a1a"/>
<polyline points="586.20,232.00 587.80,230.40 589.80,231.20 588.60,233.40 586.60,233.20" fill="none" stroke="#777" stroke-width="0.6"/>
<polyline points="590.50,233.20 592.50,231.50 594.50,230.30 596.50,230.60 598.40,231.20 600.20,232.60 602.00,233.40 603.60,235.20 605.00,237.00" fill="none" stroke="#777" stroke-width="0.6"/>
<polyline points="593.20,235.60 594.40,236.40" fill="none" stroke="#777" stroke-width="0.6"/>
<polyline points="596.80,237.00 597.80,236.20" fill="none" stroke="#777" stroke-width="0.6"/>
<polyline points="602.00,237.60 603.20,238.00" fill="none" stroke="#777" stroke-width="0.6"/>
<polyline points="599.50,234.20 600.80,235.20 599.80,236.00" fill="none" stroke="#777" stroke-width="0.6"/>
<rect x="579.9" y="350.20" width="5.6" height="5.6" fill="#eceff5" stroke="#aaa" stroke-width="0.7"/>
<text x="591.60" y="357.50" font-size="10.4" textLength="52.30" lengthAdjust="spacingAndGlyphs" fill="#333" stroke="#333" stroke-width="0.15">Mica schist</text>
<rect x="579.4" y="367.7" width="6.6" height="2.9" rx="0.6" fill="#767676"/>
<text x="591.60" y="373.00" font-size="10.4" textLength="56.50" lengthAdjust="spacingAndGlyphs" fill="#333" stroke="#333" stroke-width="0.15">Black schist</text>
<rect x="579.9" y="381.70" width="5.6" height="5.6" fill="#ebf5e9" stroke="#aaa" stroke-width="0.7"/>
<text x="591.60" y="388.70" font-size="10.4" textLength="55.50" lengthAdjust="spacingAndGlyphs" fill="#333" stroke="#333" stroke-width="0.15">Serpentinite</text>
<rect x="579.9" y="396.10" width="5.6" height="5.6" fill="#f5e9ec" stroke="#aaa" stroke-width="0.7"/>
<text x="591.60" y="403.10" font-size="10.4" textLength="56.50" lengthAdjust="spacingAndGlyphs" fill="#333" stroke="#333" stroke-width="0.15">Granodiorite</text>
<g transform="translate(276.875,361.925) scale(0.586,0.750)"><polyline points="481.10,71.40 482.80,67.40" fill="none" stroke="#1e1e1e" stroke-width="1.3" vector-effect="non-scaling-stroke"/><polyline points="481.80,67.40 485.50,63.40 490.00,68.80 491.50,69.60 481.80,67.40" fill="none" stroke="#1e1e1e" stroke-width="1.3" vector-effect="non-scaling-stroke"/><polyline points="490.00,68.70 492.30,65.30 495.90,67.90 493.40,71.80 490.00,68.70" fill="none" stroke="#1e1e1e" stroke-width="1.3" vector-effect="non-scaling-stroke"/><polyline points="495.90,67.90 498.70,66.30 501.40,67.80 500.30,70.10 495.90,67.90" fill="none" stroke="#1e1e1e" stroke-width="1.3" vector-effect="non-scaling-stroke"/><polyline points="501.40,67.80 503.90,66.40 507.00,68.30 505.30,71.40 502.00,69.00" fill="none" stroke="#1e1e1e" stroke-width="1.3" vector-effect="non-scaling-stroke"/><polyline points="507.00,68.30 510.30,64.20 514.50,66.60 511.60,70.50 507.50,68.50" fill="none" stroke="#1e1e1e" stroke-width="1.3" vector-effect="non-scaling-stroke"/><polyline points="514.50,66.60 527.60,66.60 527.60,72.60 514.50,66.60" fill="none" stroke="#1e1e1e" stroke-width="1.3" vector-effect="non-scaling-stroke"/></g>
<text x="589.80" y="416.60" font-size="10.4" textLength="90.50" lengthAdjust="spacingAndGlyphs" fill="#333" stroke="#333" stroke-width="0.15">Major fracture zone</text></svg>
</body></html>
